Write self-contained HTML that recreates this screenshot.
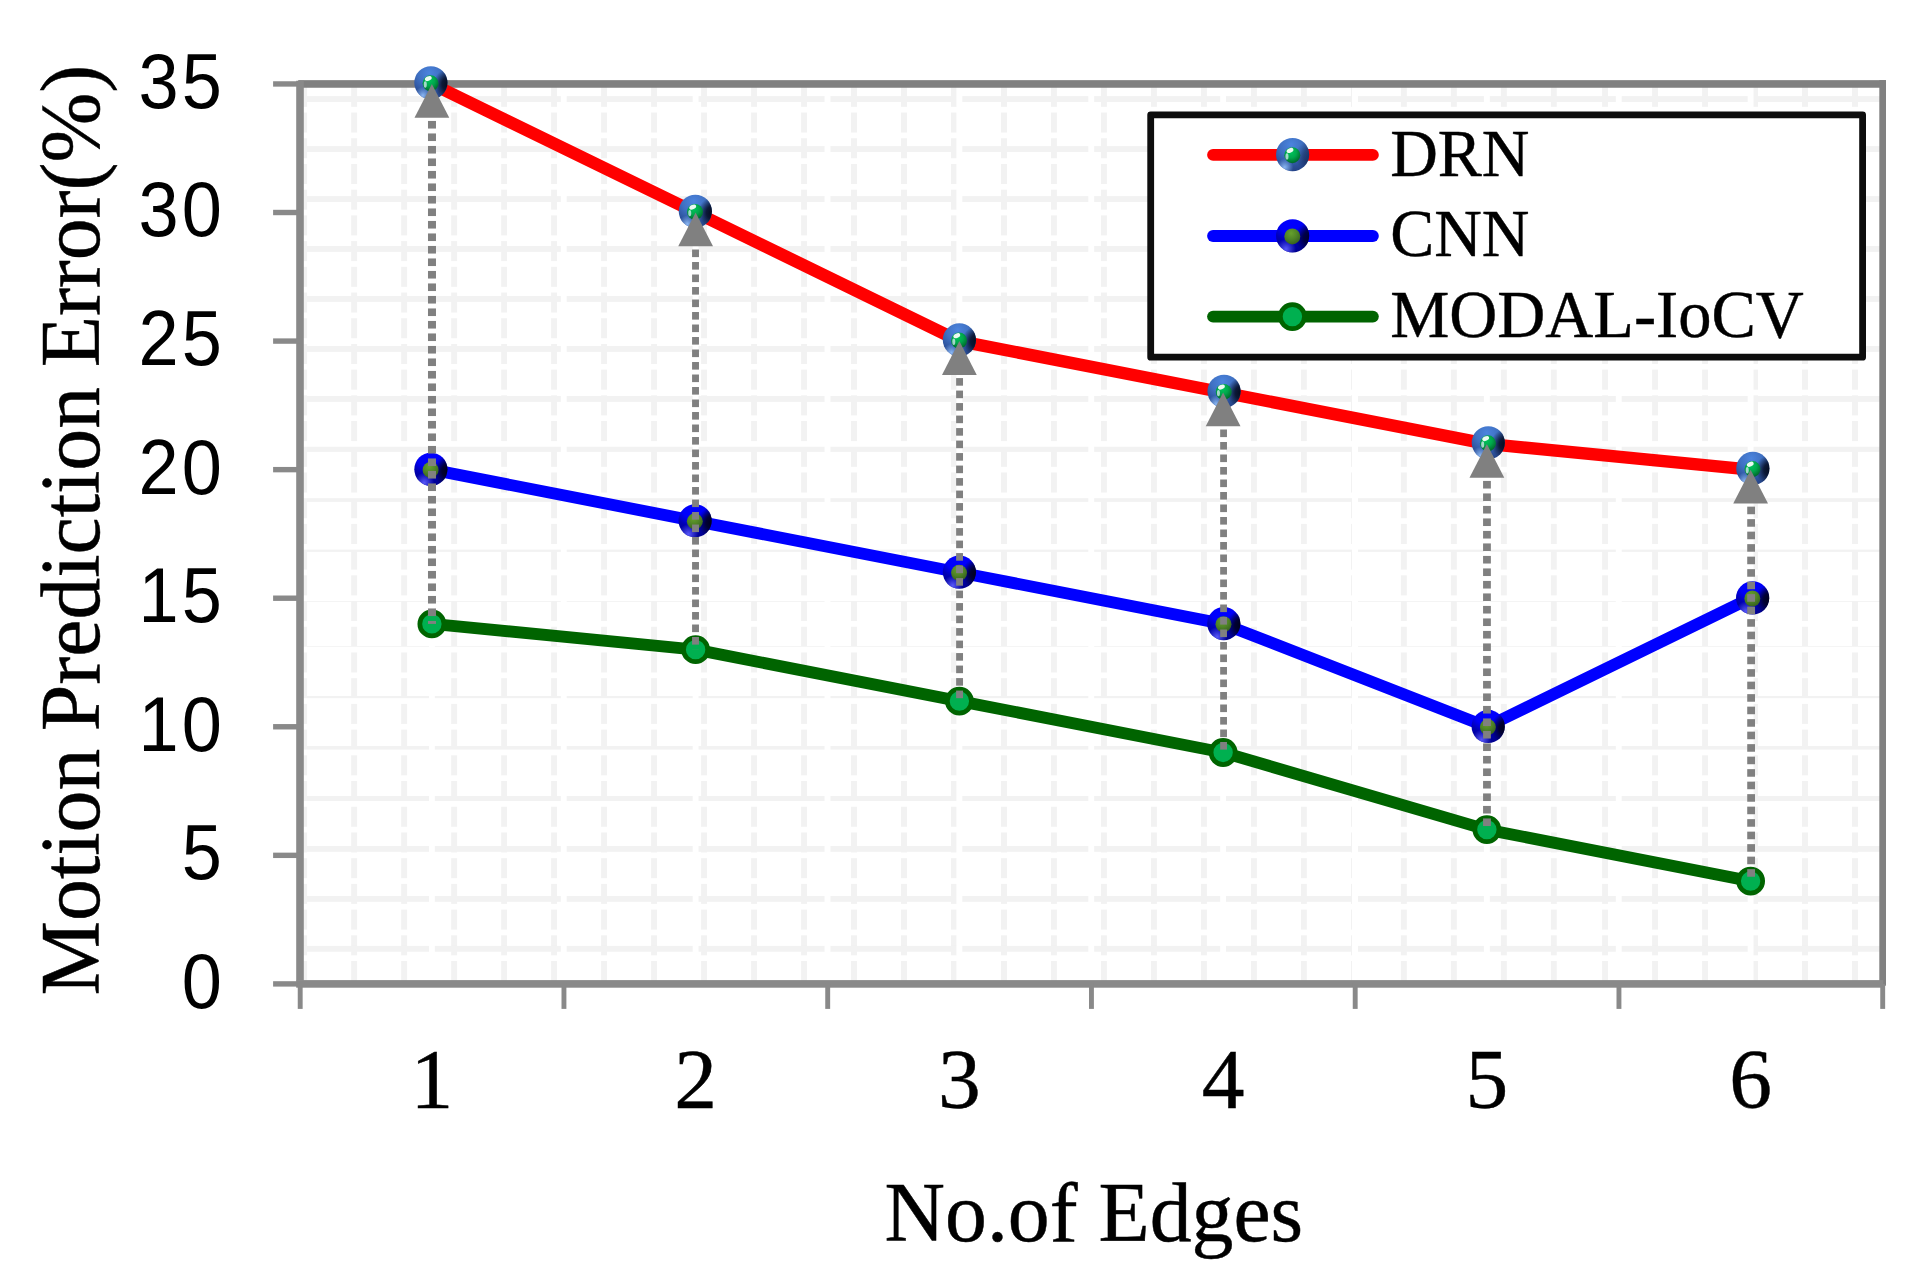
<!DOCTYPE html>
<html lang="en"><head><meta charset="utf-8"><title>Motion Prediction Error vs No. of Edges</title>
<style>html,body{margin:0;padding:0;background:#fff;}body{width:1922px;height:1282px;overflow:hidden;}svg{display:block;}text{font-kerning:none;}.serif{font-family:"Liberation Serif","DejaVu Serif",serif;fill:#000;stroke:#000;stroke-width:0.45px;}.sans{font-family:"Liberation Sans","DejaVu Sans",sans-serif;fill:#000;}</style></head><body>
<svg width="1922" height="1282" viewBox="0 0 1922 1282">
<defs>
<clipPath id="plot"><rect x="300" y="83.95" width="1582.5" height="899.95"/></clipPath>
<radialGradient id="gS" cx="0.45" cy="0.22" r="0.85" fx="0.45" fy="0.2"><stop offset="0" stop-color="#4b84de"/><stop offset="0.4" stop-color="#3f70c2"/><stop offset="0.75" stop-color="#2b4f98"/><stop offset="1" stop-color="#223f80"/></radialGradient>
<radialGradient id="gSd" cx="1.04" cy="0.54" r="0.46"><stop offset="0" stop-color="#030918" stop-opacity="0.98"/><stop offset="0.45" stop-color="#050d24" stop-opacity="0.85"/><stop offset="1" stop-color="#050d24" stop-opacity="0"/></radialGradient>
<radialGradient id="gSl" cx="0.26" cy="0.88" r="0.26"><stop offset="0" stop-color="#8fbcf8" stop-opacity="0.95"/><stop offset="1" stop-color="#8fbcf8" stop-opacity="0"/></radialGradient>
<radialGradient id="gSg" cx="0.42" cy="0.32" r="0.75"><stop offset="0" stop-color="#00c45a"/><stop offset="0.45" stop-color="#00a84c"/><stop offset="1" stop-color="#005c24"/></radialGradient>
<radialGradient id="gB" cx="0.45" cy="0.08" r="0.95"><stop offset="0" stop-color="#0000ff"/><stop offset="0.38" stop-color="#0000fa"/><stop offset="0.62" stop-color="#0000b4"/><stop offset="1" stop-color="#00008a"/></radialGradient>
<radialGradient id="gBd" cx="1.04" cy="0.55" r="0.47"><stop offset="0" stop-color="#000010" stop-opacity="0.98"/><stop offset="0.45" stop-color="#000020" stop-opacity="0.85"/><stop offset="1" stop-color="#000020" stop-opacity="0"/></radialGradient>
<radialGradient id="gBl" cx="0.3" cy="0.9" r="0.3"><stop offset="0" stop-color="#5c5cff" stop-opacity="0.95"/><stop offset="1" stop-color="#5c5cff" stop-opacity="0"/></radialGradient>
<radialGradient id="gBg" cx="0.42" cy="0.3" r="0.75"><stop offset="0" stop-color="#66a02c"/><stop offset="0.5" stop-color="#4f8426"/><stop offset="1" stop-color="#335c1c"/></radialGradient>
</defs>
<rect x="0" y="0" width="1922" height="1282" fill="#ffffff"/>
<g clip-path="url(#plot)">
<g fill="#f2f2f2">
<rect x="301.21" y="83.95" width="5.9" height="899.95"/>
<rect x="351.2" y="83.95" width="5.9" height="899.95"/>
<rect x="401.18" y="83.95" width="5.9" height="899.95"/>
<rect x="451.17" y="83.95" width="5.9" height="899.95"/>
<rect x="501.16" y="83.95" width="5.9" height="899.95"/>
<rect x="551.14" y="83.95" width="5.9" height="899.95"/>
<rect x="601.13" y="83.95" width="5.9" height="899.95"/>
<rect x="651.12" y="83.95" width="5.9" height="899.95"/>
<rect x="701.11" y="83.95" width="5.9" height="899.95"/>
<rect x="751.09" y="83.95" width="5.9" height="899.95"/>
<rect x="801.08" y="83.95" width="5.9" height="899.95"/>
<rect x="851.07" y="83.95" width="5.9" height="899.95"/>
<rect x="901.05" y="83.95" width="5.9" height="899.95"/>
<rect x="951.04" y="83.95" width="5.9" height="899.95"/>
<rect x="1001.03" y="83.95" width="5.9" height="899.95"/>
<rect x="1051.02" y="83.95" width="5.9" height="899.95"/>
<rect x="1101" y="83.95" width="5.9" height="899.95"/>
<rect x="1150.99" y="83.95" width="5.9" height="899.95"/>
<rect x="1200.98" y="83.95" width="5.9" height="899.95"/>
<rect x="1250.96" y="83.95" width="5.9" height="899.95"/>
<rect x="1300.95" y="83.95" width="5.9" height="899.95"/>
<rect x="1350.94" y="83.95" width="5.9" height="899.95"/>
<rect x="1400.92" y="83.95" width="5.9" height="899.95"/>
<rect x="1450.91" y="83.95" width="5.9" height="899.95"/>
<rect x="1500.9" y="83.95" width="5.9" height="899.95"/>
<rect x="1550.88" y="83.95" width="5.9" height="899.95"/>
<rect x="1602.12" y="83.95" width="5.9" height="899.95"/>
<rect x="1652.11" y="83.95" width="5.9" height="899.95"/>
<rect x="1702.1" y="83.95" width="5.9" height="899.95"/>
<rect x="1752.08" y="83.95" width="5.9" height="899.95"/>
<rect x="1802.07" y="83.95" width="5.9" height="899.95"/>
<rect x="1852.06" y="83.95" width="5.9" height="899.95"/>
<rect x="300" y="96.1" width="1582.5" height="5.85"/>
<rect x="300" y="146.09" width="1582.5" height="5.85"/>
<rect x="300" y="196.08" width="1582.5" height="5.85"/>
<rect x="300" y="246.07" width="1582.5" height="5.85"/>
<rect x="300" y="296.06" width="1582.5" height="5.85"/>
<rect x="300" y="346.05" width="1582.5" height="5.85"/>
<rect x="300" y="396.04" width="1582.5" height="5.85"/>
<rect x="300" y="446.03" width="1582.5" height="5.85"/>
<rect x="300" y="496.02" width="1582.5" height="5.85"/>
<rect x="300" y="546.01" width="1582.5" height="5.85"/>
<rect x="300" y="596" width="1582.5" height="5.85"/>
<rect x="300" y="645.99" width="1582.5" height="5.85"/>
<rect x="300" y="695.98" width="1582.5" height="5.85"/>
<rect x="300" y="745.97" width="1582.5" height="5.85"/>
<rect x="300" y="795.96" width="1582.5" height="5.85"/>
<rect x="300" y="845.95" width="1582.5" height="5.85"/>
<rect x="300" y="895.94" width="1582.5" height="5.85"/>
<rect x="300" y="945.93" width="1582.5" height="5.85"/>
</g>
<g fill="#ffffff">
<rect x="300" y="955.34" width="1582.5" height="5.7"/>
<rect x="300" y="929.62" width="1582.5" height="5.7"/>
<rect x="300" y="903.91" width="1582.5" height="5.7"/>
<rect x="300" y="878.2" width="1582.5" height="5.7"/>
<rect x="300" y="852.49" width="1582.5" height="5.7"/>
<rect x="300" y="826.77" width="1582.5" height="5.7"/>
<rect x="300" y="801.06" width="1582.5" height="5.7"/>
<rect x="300" y="775.35" width="1582.5" height="5.7"/>
<rect x="300" y="749.63" width="1582.5" height="5.7"/>
<rect x="300" y="723.92" width="1582.5" height="5.7"/>
<rect x="300" y="698.21" width="1582.5" height="5.7"/>
<rect x="300" y="672.5" width="1582.5" height="5.7"/>
<rect x="300" y="646.78" width="1582.5" height="5.7"/>
<rect x="300" y="621.07" width="1582.5" height="5.7"/>
<rect x="300" y="595.36" width="1582.5" height="5.7"/>
<rect x="300" y="569.64" width="1582.5" height="5.7"/>
<rect x="300" y="543.93" width="1582.5" height="5.7"/>
<rect x="300" y="518.22" width="1582.5" height="5.7"/>
<rect x="300" y="492.51" width="1582.5" height="5.7"/>
<rect x="300" y="466.79" width="1582.5" height="5.7"/>
<rect x="300" y="441.08" width="1582.5" height="5.7"/>
<rect x="300" y="415.37" width="1582.5" height="5.7"/>
<rect x="300" y="389.65" width="1582.5" height="5.7"/>
<rect x="300" y="363.94" width="1582.5" height="5.7"/>
<rect x="300" y="338.23" width="1582.5" height="5.7"/>
<rect x="300" y="312.52" width="1582.5" height="5.7"/>
<rect x="300" y="286.8" width="1582.5" height="5.7"/>
<rect x="300" y="261.09" width="1582.5" height="5.7"/>
<rect x="300" y="235.38" width="1582.5" height="5.7"/>
<rect x="300" y="209.66" width="1582.5" height="5.7"/>
<rect x="300" y="183.95" width="1582.5" height="5.7"/>
<rect x="300" y="158.24" width="1582.5" height="5.7"/>
<rect x="300" y="132.53" width="1582.5" height="5.7"/>
<rect x="300" y="106.81" width="1582.5" height="5.7"/>
<rect x="428.93" y="83.95" width="5.9" height="899.95"/>
<rect x="560.8" y="83.95" width="5.9" height="899.95"/>
<rect x="692.67" y="83.95" width="5.9" height="899.95"/>
<rect x="824.55" y="83.95" width="5.9" height="899.95"/>
<rect x="956.42" y="83.95" width="5.9" height="899.95"/>
<rect x="1088.3" y="83.95" width="5.9" height="899.95"/>
<rect x="1220.17" y="83.95" width="5.9" height="899.95"/>
<rect x="1352.05" y="83.95" width="5.9" height="899.95"/>
<rect x="1483.92" y="83.95" width="5.9" height="899.95"/>
<rect x="1615.8" y="83.95" width="5.9" height="899.95"/>
<rect x="1747.67" y="83.95" width="5.9" height="899.95"/>
</g>
</g>
<g fill="#808080">
<rect x="298.2" y="80.15" width="1587.7" height="7.6"/>
<rect x="1879.3" y="80.15" width="6.7" height="905.55"/>
</g>
<g fill="#898989">
<rect x="296.2" y="80.75" width="7.6" height="899.95"/>
<rect x="296.2" y="980.1" width="1587.1" height="7.6"/>
<rect x="273.1" y="981.2" width="26.9" height="5.4"/>
<rect x="273.1" y="852.64" width="26.9" height="5.4"/>
<rect x="273.1" y="724.07" width="26.9" height="5.4"/>
<rect x="273.1" y="595.51" width="26.9" height="5.4"/>
<rect x="273.1" y="466.94" width="26.9" height="5.4"/>
<rect x="273.1" y="338.38" width="26.9" height="5.4"/>
<rect x="273.1" y="209.81" width="26.9" height="5.4"/>
<rect x="273.1" y="81.25" width="26.9" height="5.4"/>
<rect x="297.75" y="983.9" width="4.9" height="25"/>
<rect x="561.5" y="983.9" width="4.9" height="25"/>
<rect x="825.25" y="983.9" width="4.9" height="25"/>
<rect x="1089" y="983.9" width="4.9" height="25"/>
<rect x="1352.75" y="983.9" width="4.9" height="25"/>
<rect x="1616.5" y="983.9" width="4.9" height="25"/>
<rect x="1880.25" y="983.9" width="4.9" height="25"/>
</g>
<polyline points="431.88,623.92 695.62,649.63 959.38,701.06 1223.12,752.48 1486.88,829.62 1750.62,881.05" fill="none" stroke="#006400" stroke-width="11.9" stroke-linejoin="round" stroke-linecap="round"/>
<polyline points="431.88,469.64 695.62,521.07 959.38,572.49 1223.12,623.92 1486.88,726.77 1750.62,598.21" fill="none" stroke="#0000ff" stroke-width="11.9" stroke-linejoin="round" stroke-linecap="round"/>
<polyline points="431.88,83.95 695.62,212.51 959.38,341.08 1223.12,392.5 1486.88,443.93 1750.62,469.64" fill="none" stroke="#ff0000" stroke-width="12.4" stroke-linejoin="round" stroke-linecap="round"/>
<circle cx="431.88" cy="623.92" r="12.05" fill="#00b050" stroke="#006400" stroke-width="4.7"/>
<circle cx="695.62" cy="649.63" r="12.05" fill="#00b050" stroke="#006400" stroke-width="4.7"/>
<circle cx="959.38" cy="701.06" r="12.05" fill="#00b050" stroke="#006400" stroke-width="4.7"/>
<circle cx="1223.12" cy="752.48" r="12.05" fill="#00b050" stroke="#006400" stroke-width="4.7"/>
<circle cx="1486.88" cy="829.62" r="12.05" fill="#00b050" stroke="#006400" stroke-width="4.7"/>
<circle cx="1750.62" cy="881.05" r="12.05" fill="#00b050" stroke="#006400" stroke-width="4.7"/>
<g transform="translate(430.88 469.34)">
<circle r="16.6" fill="url(#gB)"/>
<circle r="16.6" fill="url(#gBd)" opacity="1.0"/>
<circle r="16.6" fill="url(#gBl)"/>
<circle cx="-0.3" cy="0.6" r="8" fill="url(#gBg)"/>
</g>
<g transform="translate(695.12 520.77)">
<circle r="16.6" fill="url(#gB)"/>
<circle r="16.6" fill="url(#gBd)" opacity="1.0"/>
<circle r="16.6" fill="url(#gBl)"/>
<circle cx="-0.3" cy="0.6" r="8" fill="url(#gBg)"/>
</g>
<g transform="translate(959.38 572.19)">
<circle r="16.6" fill="url(#gB)"/>
<circle r="16.6" fill="url(#gBd)" opacity="1.0"/>
<circle r="16.6" fill="url(#gBl)"/>
<circle cx="-0.3" cy="0.6" r="8" fill="url(#gBg)"/>
</g>
<g transform="translate(1223.78 623.62)">
<circle r="16.6" fill="url(#gB)"/>
<circle r="16.6" fill="url(#gBd)" opacity="1.0"/>
<circle r="16.6" fill="url(#gBl)"/>
<circle cx="-0.3" cy="0.6" r="8" fill="url(#gBg)"/>
</g>
<g transform="translate(1488.17 726.47)">
<circle r="16.6" fill="url(#gB)"/>
<circle r="16.6" fill="url(#gBd)" opacity="1.0"/>
<circle r="16.6" fill="url(#gBl)"/>
<circle cx="-0.3" cy="0.6" r="8" fill="url(#gBg)"/>
</g>
<g transform="translate(1752.62 597.91)">
<circle r="16.6" fill="url(#gB)"/>
<circle r="16.6" fill="url(#gBd)" opacity="1.0"/>
<circle r="16.6" fill="url(#gBl)"/>
<circle cx="-0.3" cy="0.6" r="8" fill="url(#gBg)"/>
</g>
<g transform="translate(430.88 82.75)">
<circle r="16.6" fill="url(#gS)"/>
<circle r="16.6" fill="url(#gSd)" opacity="1.0"/>
<circle r="16.6" fill="url(#gSl)"/>
<circle cx="-0.3" cy="0.6" r="8" fill="url(#gSg)"/>
<ellipse cx="-2.6" cy="-4.2" rx="3.6" ry="2.2" fill="#ffffff" opacity="0.92" transform="rotate(-25 -2.6 -4.2)"/>
<ellipse cx="-5.6" cy="1.8" rx="1.5" ry="3.2" fill="#e8f0ff" opacity="0.7"/>
</g>
<g transform="translate(695.33 211.31)">
<circle r="16.6" fill="url(#gS)"/>
<circle r="16.6" fill="url(#gSd)" opacity="1.0"/>
<circle r="16.6" fill="url(#gSl)"/>
<circle cx="-0.3" cy="0.6" r="8" fill="url(#gSg)"/>
<ellipse cx="-2.6" cy="-4.2" rx="3.6" ry="2.2" fill="#ffffff" opacity="0.92" transform="rotate(-25 -2.6 -4.2)"/>
<ellipse cx="-5.6" cy="1.8" rx="1.5" ry="3.2" fill="#e8f0ff" opacity="0.7"/>
</g>
<g transform="translate(959.38 339.88)">
<circle r="16.6" fill="url(#gS)"/>
<circle r="16.6" fill="url(#gSd)" opacity="1.0"/>
<circle r="16.6" fill="url(#gSl)"/>
<circle cx="-0.3" cy="0.6" r="8" fill="url(#gSg)"/>
<ellipse cx="-2.6" cy="-4.2" rx="3.6" ry="2.2" fill="#ffffff" opacity="0.92" transform="rotate(-25 -2.6 -4.2)"/>
<ellipse cx="-5.6" cy="1.8" rx="1.5" ry="3.2" fill="#e8f0ff" opacity="0.7"/>
</g>
<g transform="translate(1224.03 391.3)">
<circle r="16.6" fill="url(#gS)"/>
<circle r="16.6" fill="url(#gSd)" opacity="1.0"/>
<circle r="16.6" fill="url(#gSl)"/>
<circle cx="-0.3" cy="0.6" r="8" fill="url(#gSg)"/>
<ellipse cx="-2.6" cy="-4.2" rx="3.6" ry="2.2" fill="#ffffff" opacity="0.92" transform="rotate(-25 -2.6 -4.2)"/>
<ellipse cx="-5.6" cy="1.8" rx="1.5" ry="3.2" fill="#e8f0ff" opacity="0.7"/>
</g>
<g transform="translate(1488.28 442.73)">
<circle r="16.6" fill="url(#gS)"/>
<circle r="16.6" fill="url(#gSd)" opacity="1.0"/>
<circle r="16.6" fill="url(#gSl)"/>
<circle cx="-0.3" cy="0.6" r="8" fill="url(#gSg)"/>
<ellipse cx="-2.6" cy="-4.2" rx="3.6" ry="2.2" fill="#ffffff" opacity="0.92" transform="rotate(-25 -2.6 -4.2)"/>
<ellipse cx="-5.6" cy="1.8" rx="1.5" ry="3.2" fill="#e8f0ff" opacity="0.7"/>
</g>
<g transform="translate(1752.83 468.44)">
<circle r="16.6" fill="url(#gS)"/>
<circle r="16.6" fill="url(#gSd)" opacity="1.0"/>
<circle r="16.6" fill="url(#gSl)"/>
<circle cx="-0.3" cy="0.6" r="8" fill="url(#gSg)"/>
<ellipse cx="-2.6" cy="-4.2" rx="3.6" ry="2.2" fill="#ffffff" opacity="0.92" transform="rotate(-25 -2.6 -4.2)"/>
<ellipse cx="-5.6" cy="1.8" rx="1.5" ry="3.2" fill="#e8f0ff" opacity="0.7"/>
</g>
<g fill="#808080">
<polygon points="431.88,83.95 414.48,117.75 449.27,117.75"/>
<rect x="427.98" y="120.95" width="8" height="7.6"/>
<rect x="427.98" y="133.45" width="8" height="7.6"/>
<rect x="427.98" y="145.95" width="8" height="7.6"/>
<rect x="427.98" y="158.45" width="8" height="7.6"/>
<rect x="427.98" y="170.95" width="8" height="7.6"/>
<rect x="427.98" y="183.45" width="8" height="7.6"/>
<rect x="427.98" y="195.95" width="8" height="7.6"/>
<rect x="427.98" y="208.45" width="8" height="7.6"/>
<rect x="427.98" y="220.95" width="8" height="7.6"/>
<rect x="427.98" y="233.45" width="8" height="7.6"/>
<rect x="427.98" y="245.95" width="8" height="7.6"/>
<rect x="427.98" y="258.45" width="8" height="7.6"/>
<rect x="427.98" y="270.95" width="8" height="7.6"/>
<rect x="427.98" y="283.45" width="8" height="7.6"/>
<rect x="427.98" y="295.95" width="8" height="7.6"/>
<rect x="427.98" y="308.45" width="8" height="7.6"/>
<rect x="427.98" y="320.95" width="8" height="7.6"/>
<rect x="427.98" y="333.45" width="8" height="7.6"/>
<rect x="427.98" y="345.95" width="8" height="7.6"/>
<rect x="427.98" y="358.45" width="8" height="7.6"/>
<rect x="427.98" y="370.95" width="8" height="7.6"/>
<rect x="427.98" y="383.45" width="8" height="7.6"/>
<rect x="427.98" y="395.95" width="8" height="7.6"/>
<rect x="427.98" y="408.45" width="8" height="7.6"/>
<rect x="427.98" y="420.95" width="8" height="7.6"/>
<rect x="427.98" y="433.45" width="8" height="7.6"/>
<rect x="427.98" y="445.95" width="8" height="7.6"/>
<rect x="427.98" y="458.45" width="8" height="7.6"/>
<rect x="427.98" y="470.95" width="8" height="7.6"/>
<rect x="427.98" y="483.45" width="8" height="7.6"/>
<rect x="427.98" y="495.95" width="8" height="7.6"/>
<rect x="427.98" y="508.45" width="8" height="7.6"/>
<rect x="427.98" y="520.95" width="8" height="7.6"/>
<rect x="427.98" y="533.45" width="8" height="7.6"/>
<rect x="427.98" y="545.95" width="8" height="7.6"/>
<rect x="427.98" y="558.45" width="8" height="7.6"/>
<rect x="427.98" y="570.95" width="8" height="7.6"/>
<rect x="427.98" y="583.45" width="8" height="7.6"/>
<rect x="427.98" y="595.95" width="8" height="7.6"/>
<rect x="427.98" y="608.45" width="8" height="7.6"/>
<rect x="427.98" y="620.95" width="8" height="2.97"/>
<polygon points="695.62,212.51 678.23,246.31 713.02,246.31"/>
<rect x="692.07" y="249.51" width="6.9" height="7.6"/>
<rect x="692.07" y="262.01" width="6.9" height="7.6"/>
<rect x="692.07" y="274.51" width="6.9" height="7.6"/>
<rect x="692.07" y="287.01" width="6.9" height="7.6"/>
<rect x="692.07" y="299.51" width="6.9" height="7.6"/>
<rect x="692.07" y="312.01" width="6.9" height="7.6"/>
<rect x="692.07" y="324.51" width="6.9" height="7.6"/>
<rect x="692.07" y="337.01" width="6.9" height="7.6"/>
<rect x="692.07" y="349.51" width="6.9" height="7.6"/>
<rect x="692.07" y="362.01" width="6.9" height="7.6"/>
<rect x="692.07" y="374.51" width="6.9" height="7.6"/>
<rect x="692.07" y="387.01" width="6.9" height="7.6"/>
<rect x="692.07" y="399.51" width="6.9" height="7.6"/>
<rect x="692.07" y="412.01" width="6.9" height="7.6"/>
<rect x="692.07" y="424.51" width="6.9" height="7.6"/>
<rect x="692.07" y="437.01" width="6.9" height="7.6"/>
<rect x="692.07" y="449.51" width="6.9" height="7.6"/>
<rect x="692.07" y="462.01" width="6.9" height="7.6"/>
<rect x="692.07" y="474.51" width="6.9" height="7.6"/>
<rect x="692.07" y="487.01" width="6.9" height="7.6"/>
<rect x="692.07" y="499.51" width="6.9" height="7.6"/>
<rect x="692.07" y="512.01" width="6.9" height="7.6"/>
<rect x="692.07" y="524.51" width="6.9" height="7.6"/>
<rect x="692.07" y="537.01" width="6.9" height="7.6"/>
<rect x="692.07" y="549.51" width="6.9" height="7.6"/>
<rect x="692.07" y="562.01" width="6.9" height="7.6"/>
<rect x="692.07" y="574.51" width="6.9" height="7.6"/>
<rect x="692.07" y="587.01" width="6.9" height="7.6"/>
<rect x="692.07" y="599.51" width="6.9" height="7.6"/>
<rect x="692.07" y="612.01" width="6.9" height="7.6"/>
<rect x="692.07" y="624.51" width="6.9" height="7.6"/>
<rect x="692.07" y="637.01" width="6.9" height="7.6"/>
<rect x="692.07" y="649.51" width="6.9" height="0.12"/>
<polygon points="959.38,341.08 941.98,374.88 976.77,374.88"/>
<rect x="956.12" y="378.08" width="6.9" height="7.6"/>
<rect x="956.12" y="390.58" width="6.9" height="7.6"/>
<rect x="956.12" y="403.08" width="6.9" height="7.6"/>
<rect x="956.12" y="415.58" width="6.9" height="7.6"/>
<rect x="956.12" y="428.08" width="6.9" height="7.6"/>
<rect x="956.12" y="440.58" width="6.9" height="7.6"/>
<rect x="956.12" y="453.08" width="6.9" height="7.6"/>
<rect x="956.12" y="465.58" width="6.9" height="7.6"/>
<rect x="956.12" y="478.08" width="6.9" height="7.6"/>
<rect x="956.12" y="490.58" width="6.9" height="7.6"/>
<rect x="956.12" y="503.08" width="6.9" height="7.6"/>
<rect x="956.12" y="515.58" width="6.9" height="7.6"/>
<rect x="956.12" y="528.08" width="6.9" height="7.6"/>
<rect x="956.12" y="540.58" width="6.9" height="7.6"/>
<rect x="956.12" y="553.08" width="6.9" height="7.6"/>
<rect x="956.12" y="565.58" width="6.9" height="7.6"/>
<rect x="956.12" y="578.08" width="6.9" height="7.6"/>
<rect x="956.12" y="590.58" width="6.9" height="7.6"/>
<rect x="956.12" y="603.08" width="6.9" height="7.6"/>
<rect x="956.12" y="615.58" width="6.9" height="7.6"/>
<rect x="956.12" y="628.08" width="6.9" height="7.6"/>
<rect x="956.12" y="640.58" width="6.9" height="7.6"/>
<rect x="956.12" y="653.08" width="6.9" height="7.6"/>
<rect x="956.12" y="665.58" width="6.9" height="7.6"/>
<rect x="956.12" y="678.08" width="6.9" height="7.6"/>
<rect x="956.12" y="690.58" width="6.9" height="7.6"/>
<polygon points="1223.12,392.5 1205.72,426.3 1240.53,426.3"/>
<rect x="1220.17" y="429.5" width="6.8" height="7.6"/>
<rect x="1220.17" y="442" width="6.8" height="7.6"/>
<rect x="1220.17" y="454.5" width="6.8" height="7.6"/>
<rect x="1220.17" y="467" width="6.8" height="7.6"/>
<rect x="1220.17" y="479.5" width="6.8" height="7.6"/>
<rect x="1220.17" y="492" width="6.8" height="7.6"/>
<rect x="1220.17" y="504.5" width="6.8" height="7.6"/>
<rect x="1220.17" y="517" width="6.8" height="7.6"/>
<rect x="1220.17" y="529.5" width="6.8" height="7.6"/>
<rect x="1220.17" y="542" width="6.8" height="7.6"/>
<rect x="1220.17" y="554.5" width="6.8" height="7.6"/>
<rect x="1220.17" y="567" width="6.8" height="7.6"/>
<rect x="1220.17" y="579.5" width="6.8" height="7.6"/>
<rect x="1220.17" y="592" width="6.8" height="7.6"/>
<rect x="1220.17" y="604.5" width="6.8" height="7.6"/>
<rect x="1220.17" y="617" width="6.8" height="7.6"/>
<rect x="1220.17" y="629.5" width="6.8" height="7.6"/>
<rect x="1220.17" y="642" width="6.8" height="7.6"/>
<rect x="1220.17" y="654.5" width="6.8" height="7.6"/>
<rect x="1220.17" y="667" width="6.8" height="7.6"/>
<rect x="1220.17" y="679.5" width="6.8" height="7.6"/>
<rect x="1220.17" y="692" width="6.8" height="7.6"/>
<rect x="1220.17" y="704.5" width="6.8" height="7.6"/>
<rect x="1220.17" y="717" width="6.8" height="7.6"/>
<rect x="1220.17" y="729.5" width="6.8" height="7.6"/>
<rect x="1220.17" y="742" width="6.8" height="7.6"/>
<polygon points="1486.88,443.93 1469.47,477.73 1504.28,477.73"/>
<rect x="1483.07" y="480.93" width="7.8" height="7.6"/>
<rect x="1483.07" y="493.43" width="7.8" height="7.6"/>
<rect x="1483.07" y="505.93" width="7.8" height="7.6"/>
<rect x="1483.07" y="518.43" width="7.8" height="7.6"/>
<rect x="1483.07" y="530.93" width="7.8" height="7.6"/>
<rect x="1483.07" y="543.43" width="7.8" height="7.6"/>
<rect x="1483.07" y="555.93" width="7.8" height="7.6"/>
<rect x="1483.07" y="568.43" width="7.8" height="7.6"/>
<rect x="1483.07" y="580.93" width="7.8" height="7.6"/>
<rect x="1483.07" y="593.43" width="7.8" height="7.6"/>
<rect x="1483.07" y="605.93" width="7.8" height="7.6"/>
<rect x="1483.07" y="618.43" width="7.8" height="7.6"/>
<rect x="1483.07" y="630.93" width="7.8" height="7.6"/>
<rect x="1483.07" y="643.43" width="7.8" height="7.6"/>
<rect x="1483.07" y="655.93" width="7.8" height="7.6"/>
<rect x="1483.07" y="668.43" width="7.8" height="7.6"/>
<rect x="1483.07" y="680.93" width="7.8" height="7.6"/>
<rect x="1483.07" y="693.43" width="7.8" height="7.6"/>
<rect x="1483.07" y="705.93" width="7.8" height="7.6"/>
<rect x="1483.07" y="718.43" width="7.8" height="7.6"/>
<rect x="1483.07" y="730.93" width="7.8" height="7.6"/>
<rect x="1483.07" y="743.43" width="7.8" height="7.6"/>
<rect x="1483.07" y="755.93" width="7.8" height="7.6"/>
<rect x="1483.07" y="768.43" width="7.8" height="7.6"/>
<rect x="1483.07" y="780.93" width="7.8" height="7.6"/>
<rect x="1483.07" y="793.43" width="7.8" height="7.6"/>
<rect x="1483.07" y="805.93" width="7.8" height="7.6"/>
<rect x="1483.07" y="818.43" width="7.8" height="7.6"/>
<polygon points="1750.62,469.64 1733.22,503.44 1768.03,503.44"/>
<rect x="1747.22" y="506.64" width="7.8" height="7.6"/>
<rect x="1747.22" y="519.14" width="7.8" height="7.6"/>
<rect x="1747.22" y="531.64" width="7.8" height="7.6"/>
<rect x="1747.22" y="544.14" width="7.8" height="7.6"/>
<rect x="1747.22" y="556.64" width="7.8" height="7.6"/>
<rect x="1747.22" y="569.14" width="7.8" height="7.6"/>
<rect x="1747.22" y="581.64" width="7.8" height="7.6"/>
<rect x="1747.22" y="594.14" width="7.8" height="7.6"/>
<rect x="1747.22" y="606.64" width="7.8" height="7.6"/>
<rect x="1747.22" y="619.14" width="7.8" height="7.6"/>
<rect x="1747.22" y="631.64" width="7.8" height="7.6"/>
<rect x="1747.22" y="644.14" width="7.8" height="7.6"/>
<rect x="1747.22" y="656.64" width="7.8" height="7.6"/>
<rect x="1747.22" y="669.14" width="7.8" height="7.6"/>
<rect x="1747.22" y="681.64" width="7.8" height="7.6"/>
<rect x="1747.22" y="694.14" width="7.8" height="7.6"/>
<rect x="1747.22" y="706.64" width="7.8" height="7.6"/>
<rect x="1747.22" y="719.14" width="7.8" height="7.6"/>
<rect x="1747.22" y="731.64" width="7.8" height="7.6"/>
<rect x="1747.22" y="744.14" width="7.8" height="7.6"/>
<rect x="1747.22" y="756.64" width="7.8" height="7.6"/>
<rect x="1747.22" y="769.14" width="7.8" height="7.6"/>
<rect x="1747.22" y="781.64" width="7.8" height="7.6"/>
<rect x="1747.22" y="794.14" width="7.8" height="7.6"/>
<rect x="1747.22" y="806.64" width="7.8" height="7.6"/>
<rect x="1747.22" y="819.14" width="7.8" height="7.6"/>
<rect x="1747.22" y="831.64" width="7.8" height="7.6"/>
<rect x="1747.22" y="844.14" width="7.8" height="7.6"/>
<rect x="1747.22" y="856.64" width="7.8" height="7.6"/>
<rect x="1747.22" y="869.14" width="7.8" height="7.6"/>
</g>
<rect x="1150.7" y="114.8" width="711.9" height="242.4" fill="#ffffff" stroke="#0d0d0d" stroke-width="6.8" stroke-linejoin="round"/>
<line x1="1213" y1="154.9" x2="1372.9" y2="154.9" stroke="#ff0000" stroke-width="11.8" stroke-linecap="round"/>
<line x1="1213" y1="236" x2="1372.9" y2="236" stroke="#0000ff" stroke-width="11.8" stroke-linecap="round"/>
<line x1="1213" y1="316.6" x2="1372.9" y2="316.6" stroke="#006400" stroke-width="11.8" stroke-linecap="round"/>
<g transform="translate(1292.6 154.6)">
<circle r="16.6" fill="url(#gS)"/>
<circle r="16.6" fill="url(#gSd)" opacity="0.4"/>
<circle r="16.6" fill="url(#gSl)"/>
<circle cx="-0.3" cy="0.6" r="8" fill="url(#gSg)"/>
<ellipse cx="-2.6" cy="-4.2" rx="3.6" ry="2.2" fill="#ffffff" opacity="0.92" transform="rotate(-25 -2.6 -4.2)"/>
<ellipse cx="-5.6" cy="1.8" rx="1.5" ry="3.2" fill="#e8f0ff" opacity="0.7"/>
</g>
<g transform="translate(1292.6 235.8)">
<circle r="16.6" fill="url(#gB)"/>
<circle r="16.6" fill="url(#gBd)" opacity="0.85"/>
<circle r="16.6" fill="url(#gBl)"/>
<circle cx="-0.3" cy="0.6" r="8" fill="url(#gBg)"/>
</g>
<circle cx="1292.4" cy="316.6" r="12.05" fill="#00b050" stroke="#006400" stroke-width="4.7"/>
<text class="serif" x="1390.2" y="175.8" font-size="68.7" textLength="139.2" lengthAdjust="spacingAndGlyphs">DRN</text>
<text class="serif" x="1390.2" y="256" font-size="68.7" textLength="139.2" lengthAdjust="spacingAndGlyphs">CNN</text>
<text class="serif" x="1390.2" y="336.7" font-size="68.7" textLength="413.6" lengthAdjust="spacingAndGlyphs">MODAL-IoCV</text>
<text class="sans" transform="translate(225 1007.8) scale(0.925 1)" font-size="78" text-anchor="end" letter-spacing="3.4">0</text>
<text class="sans" transform="translate(225 879.24) scale(0.925 1)" font-size="78" text-anchor="end" letter-spacing="3.4">5</text>
<text class="sans" transform="translate(225 750.67) scale(0.925 1)" font-size="78" text-anchor="end" letter-spacing="3.4">10</text>
<text class="sans" transform="translate(225 622.11) scale(0.925 1)" font-size="78" text-anchor="end" letter-spacing="3.4">15</text>
<text class="sans" transform="translate(225 493.54) scale(0.925 1)" font-size="78" text-anchor="end" letter-spacing="3.4">20</text>
<text class="sans" transform="translate(225 364.98) scale(0.925 1)" font-size="78" text-anchor="end" letter-spacing="3.4">25</text>
<text class="sans" transform="translate(225 236.41) scale(0.925 1)" font-size="78" text-anchor="end" letter-spacing="3.4">30</text>
<text class="sans" transform="translate(225 107.85) scale(0.925 1)" font-size="78" text-anchor="end" letter-spacing="3.4">35</text>
<text class="serif" x="431.88" y="1107.6" font-size="85.5" text-anchor="middle">1</text>
<text class="serif" x="695.62" y="1107.6" font-size="85.5" text-anchor="middle">2</text>
<text class="serif" x="959.38" y="1107.6" font-size="85.5" text-anchor="middle">3</text>
<text class="serif" x="1223.12" y="1107.6" font-size="85.5" text-anchor="middle">4</text>
<text class="serif" x="1486.88" y="1107.6" font-size="85.5" text-anchor="middle">5</text>
<text class="serif" x="1750.62" y="1107.6" font-size="85.5" text-anchor="middle">6</text>
<text class="serif" x="884.6" y="1241.3" font-size="84" textLength="418.6" lengthAdjust="spacingAndGlyphs">No.of Edges</text>
<text class="serif" transform="translate(99.4 995.4) rotate(-90)" font-size="83.8">Motion <tspan dx="-3.6">Prediction </tspan><tspan dx="-1.4">Error(%)</tspan></text>
</svg></body></html>
